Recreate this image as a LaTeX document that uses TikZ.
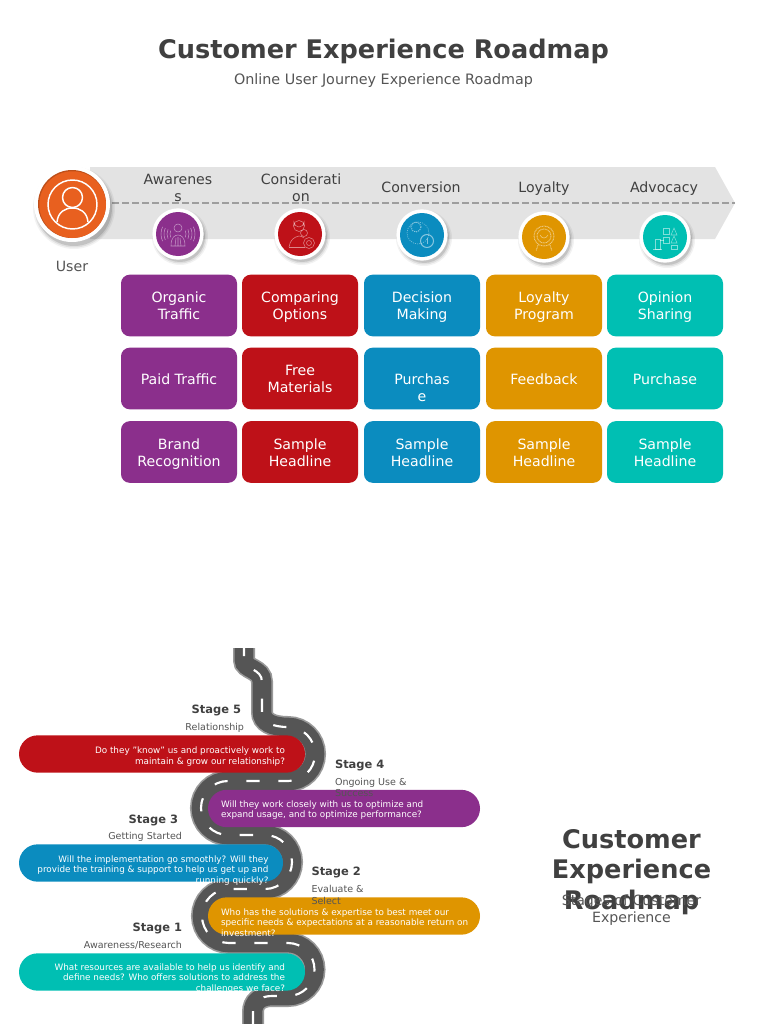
\documentclass[tikz,border=0pt]{standalone}
\usepackage{fontspec}
\setmainfont{DejaVu Sans}
\usetikzlibrary{arrows.meta,calc}
\definecolor{cpurple}{HTML}{8B2F8C}
\definecolor{cred}{HTML}{BE1118}
\definecolor{cblue}{HTML}{0B8CBF}
\definecolor{camber}{HTML}{DF9500}
\definecolor{cteal}{HTML}{00BFB3}
\definecolor{corange}{HTML}{E8601F}
\definecolor{ctext}{HTML}{404040}
\definecolor{csub}{HTML}{555555}
\definecolor{cband}{HTML}{E3E3E3}
\definecolor{croad}{HTML}{555555}
\definecolor{croadedge}{HTML}{999999}
\tikzset{
  x=0.75pt,y=-0.75pt,
  every node/.style={inner sep=0pt,outer sep=0pt,align=center},
  cell/.style={rounded corners=6.5pt,minimum width=87pt,minimum height=46.2pt},
  celltxt/.style={text=white,font=\fontsize{10.6pt}{12.8pt}\selectfont},
  pill/.style={rounded corners=14pt,minimum height=28pt},
  pilltxt/.style={text=white,font=\fontsize{6.62pt}{7.95pt}\selectfont},
  stagehead/.style={text=ctext,font=\bfseries\fontsize{8.6pt}{10pt}\selectfont},
  stagesub/.style={text=csub,font=\fontsize{7.15pt}{8.5pt}\selectfont},
  phase/.style={text=ctext,font=\fontsize{10.6pt}{12.8pt}\selectfont},
  badge/.style={circle,fill=#1,minimum size=33pt},
  badgering/.style={circle,fill=white,minimum size=38.5pt},
  icon/.style={draw=white,draw opacity=.5,line width=.4pt,fill=none},
}
\newcommand{\shadowdisc}[2]{%
  \fill[black,opacity=.05] (#1)++(2,3) circle (#2+3);
  \fill[black,opacity=.08] (#1)++(2,3) circle (#2+1.5);
  \fill[black,opacity=.12] (#1)++(2,3) circle (#2);
}
\newcommand{\cellnode}[5][2.5]{%
  \node[cell,fill=#2] (#3) at (#4) {};
  \node[celltxt] (#3t) at ($(#3)+(0,#1)$) {\strut #5\strut};
}
\begin{document}
\begin{tikzpicture}
\useasboundingbox (0,0) rectangle (768,1024);
\fill[white] (0,0) rectangle (768,1024);
% titles
\node[text=ctext,font=\bfseries\fontsize{19.2pt}{23pt}\selectfont] (title) at (383.5,51.5) {Customer Experience Roadmap};
\node[text=csub,font=\fontsize{10.75pt}{13pt}\selectfont] (subtitle) at (383.5,81) {Online User Journey Experience Roadmap};
% band
\fill[cband] (90,167) -- (715,167) -- (735,203) -- (715,239) -- (90,239) -- cycle;
\coordinate (dashA) at (112,203);
\coordinate (dashB) at (735,203);
\draw[color=black!38,line width=1.5pt,dash pattern=on 5.5pt off 2pt] (dashA) -- (dashB);
% user
\shadowdisc{72,205}{38}
\node[circle,fill=white,minimum size=57pt] (userring) at (72,204) {};
\fill[corange!82!black] (72,204) circle (34);
\node[circle,fill=corange,minimum size=50pt] (userdisc) at (72.6,204.6) {};
\draw[white,line width=1.1pt] (72.5,204.5) circle (24.5);
\draw[white,line width=1.1pt] (72.5,197.5) circle (10);
\draw[white,line width=1.1pt] (57,222) .. controls (58,212) and (65,208) .. (72.5,208) .. controls (80,208) and (87,212) .. (88,222);
\node[text=csub,font=\fontsize{10.6pt}{12.8pt}\selectfont] (userlabel) at (72,266) {User};
% phases
\node[phase] (p1) at (178,187.5) {Awarenes\\s};
\node[phase] (p2) at (301,187.5) {Considerati\\on};
\node[phase] (p3) at (421,187) {Conversion};
\node[phase] (p4) at (544,188.5) {Loyalty};
\node[phase] (p5) at (664,188.5) {Advocacy};
% badges
\foreach \n/\cx/\cy/\col in {1/178/234/cpurple,2/300/234/cred,3/422/235/cblue,4/544/237/camber,5/665/237/cteal}{
  \shadowdisc{\cx,\cy}{25}
  \node[badgering] (r\n) at (\cx,\cy) {};
  \node[badge=\col] (b\n) at (\cx,\cy) {};
}
% icon 1: person with signal waves
\begin{scope}[shift={(178,234)},icon]
  \draw (0,-6) circle (4);
  \draw (-7,12) .. controls (-7,3) and (-3,1) .. (0,1) .. controls (3,1) and (7,3) .. (7,12) -- cycle;
  \draw (-3,12) -- (-2,4) (0,12) -- (0,3) (3,12) -- (2,4);
  \foreach \r in {8,11,14,17}{
    \draw (-25:\r) arc (-25:25:\r);
    \draw (155:\r) arc (155:205:\r);
  }
\end{scope}
% icon 2: person with gears
\begin{scope}[shift={(300,234)},icon]
  \draw (-1,-8) circle (5.5);
  \draw (-6,-8) -- (-6,-12) arc (180:0:5) -- (4,-8);
  \draw (-11,13) .. controls (-10,6) and (-6,3) .. (-1,2) .. controls (1,2) and (3,3) .. (4,4);
  \draw (-11,13) -- (5,13);
  \draw (9,9) circle (5.5) (9,9) circle (2.5);
  \draw (4,-1) circle (3.5);
\end{scope}
% icon 3: dotted cycle with coin
\begin{scope}[shift={(422,235)},icon]
  \draw[dash pattern=on .8pt off .8pt] (-4,-2) circle (11);
  \draw[line width=.8pt,dash pattern=on .8pt off .8pt] (-6,-8) circle (5);
  \draw[line width=.8pt] (5,6) circle (6.5);
  \draw (5,3) -- (5,9);
\end{scope}
% icon 4: rosette
\begin{scope}[shift={(544,237)},icon]
  \draw[dash pattern=on .7pt off .5pt,line width=.7pt] (0,-1) circle (10);
  \draw[dash pattern=on .7pt off .5pt,line width=.7pt] (0,-1) circle (7);
  \draw (-4,-2) .. controls (-2,2) and (2,2) .. (4,-2);
  \draw[dash pattern=on .7pt off .5pt,line width=.7pt] (-6,8) -- (-8,14) (6,8) -- (8,14);
\end{scope}
% icon 5: chess-like pieces
\begin{scope}[shift={(665,237)},icon]
  \draw (-10,2) rectangle (-5,12);
  \draw (-12,12) -- (-3,12);
  \draw (-5,3) -- (-1,3);
  \draw (-2,-9) rectangle (4,-3) (-2,0) rectangle (4,6);
  \draw (9,-9) -- (6,-2) -- (12,-2) -- cycle;
  \draw (9,-1) -- (6,6) -- (12,6) -- cycle;
  \draw (6,8) rectangle (12,12);
\end{scope}
% grid
\cellnode{cpurple}{g11}{179,305.5}{Organic\\Traffic}
\cellnode{cpurple}{g12}{179,378.5}{Paid Traffic}
\cellnode{cpurple}{g13}{179,452}{Brand\\Recognition}
\cellnode{cred}{g21}{300,305.5}{Comparing\\Options}
\cellnode{cred}{g22}{300,378.5}{Free\\Materials}
\cellnode{cred}{g23}{300,452}{Sample\\Headline}
\cellnode{cblue}{g31}{422,305.5}{Decision\\Making}
\cellnode[11]{cblue}{g32}{422,378.5}{Purchas\\e}
\cellnode{cblue}{g33}{422,452}{Sample\\Headline}
\cellnode{camber}{g41}{544,305.5}{Loyalty\\Program}
\cellnode{camber}{g42}{544,378.5}{Feedback}
\cellnode{camber}{g43}{544,452}{Sample\\Headline}
\cellnode{cteal}{g51}{665,305.5}{Opinion\\Sharing}
\cellnode{cteal}{g52}{665,378.5}{Purchase}
\cellnode{cteal}{g53}{665,452}{Sample\\Headline}
% road
\def\roadpath{(244,648) -- (244,660) .. controls (244,670) and (262,668) .. (262,682) -- (262,712) .. controls (262,722) and (272,727) .. (288,727)
  arc (-90:90:27) -- (228,781)
  arc (270:90:27) -- (265,835)
  arc (-90:90:27) -- (229,889)
  arc (270:90:27) -- (288,943)
  arc (-90:90:26.5) -- (272,996) .. controls (260,996) and (253,1002) .. (253,1012) -- (253,1024)}
\draw[croadedge,line width=16.5pt] \roadpath;
\draw[croad,line width=14pt] \roadpath;
\draw[white,line width=1.6pt,dash pattern=on 10pt off 14pt,dash phase=4pt] \roadpath;
% pills
\node[pill,fill=cred,minimum width=214.5pt] (s5) at (162,754) {};
\node[pill,fill=cpurple,minimum width=204pt] (s4) at (344,808.5) {};
\node[pill,fill=cblue,minimum width=198pt] (s3) at (151,863) {};
\node[pill,fill=camber,minimum width=204pt] (s2) at (344,916) {};
\node[pill,fill=cteal,minimum width=214.5pt] (s1) at (162,972) {};
% pill text
\node[pilltxt,anchor=east,align=right] (t5) at (285,756.5) {Do they "know" us and proactively work to\\maintain \& grow our relationship?};
\node[pilltxt,anchor=west,align=left] (t4) at (221,810) {Will they work closely with us to optimize and\\expand usage, and to optimize performance?};
\node[pilltxt,anchor=east,align=right] (t3) at (268.5,870.5) {Will the implementation go smoothly? Will they\\provide the training \& support to help us get up and\\running quickly?};
\node[pilltxt,anchor=west,align=left] (t2) at (221,922.5) {Who has the solutions \& expertise to best meet our\\specific needs \& expectations at a reasonable return on\\investment?};
\node[pilltxt,anchor=east,align=right] (t1) at (285,978.5) {What resources are available to help us identify and\\define needs? Who offers solutions to address the\\challenges we face?};
% stage labels
\node[stagehead,anchor=east] (h5) at (241,710) {Stage 5};
\node[stagesub,anchor=east] (l5) at (244,727.5) {Relationship};
\node[stagehead,anchor=west] (h4) at (335,765) {Stage 4};
\node[stagesub,anchor=north west,align=left] (l4) at (335,778) {Ongoing Use \&\\Success};
\node[stagehead,anchor=east] (h3) at (178,820) {Stage 3};
\node[stagesub,anchor=east] (l3) at (182,836.5) {Getting Started};
\node[stagehead,anchor=west] (h2) at (311.5,872.5) {Stage 2};
\node[stagesub,anchor=north west,align=left] (l2) at (311.5,885.5) {Evaluate \&\\Select};
\node[stagehead,anchor=east] (h1) at (182,928) {Stage 1};
\node[stagesub,anchor=east] (l1) at (182,945.5) {Awareness/Research};
% side title
\node[text=ctext,font=\bfseries\fontsize{19.2pt}{23pt}\selectfont] (sidetitle) at (631.5,872) {Customer\\Experience\\Roadmap};
\node[text=csub,font=\fontsize{10.6pt}{12.8pt}\selectfont] (sidesub) at (631.5,910) {Stages of Customer\\Experience};
\end{tikzpicture}
\end{document}
